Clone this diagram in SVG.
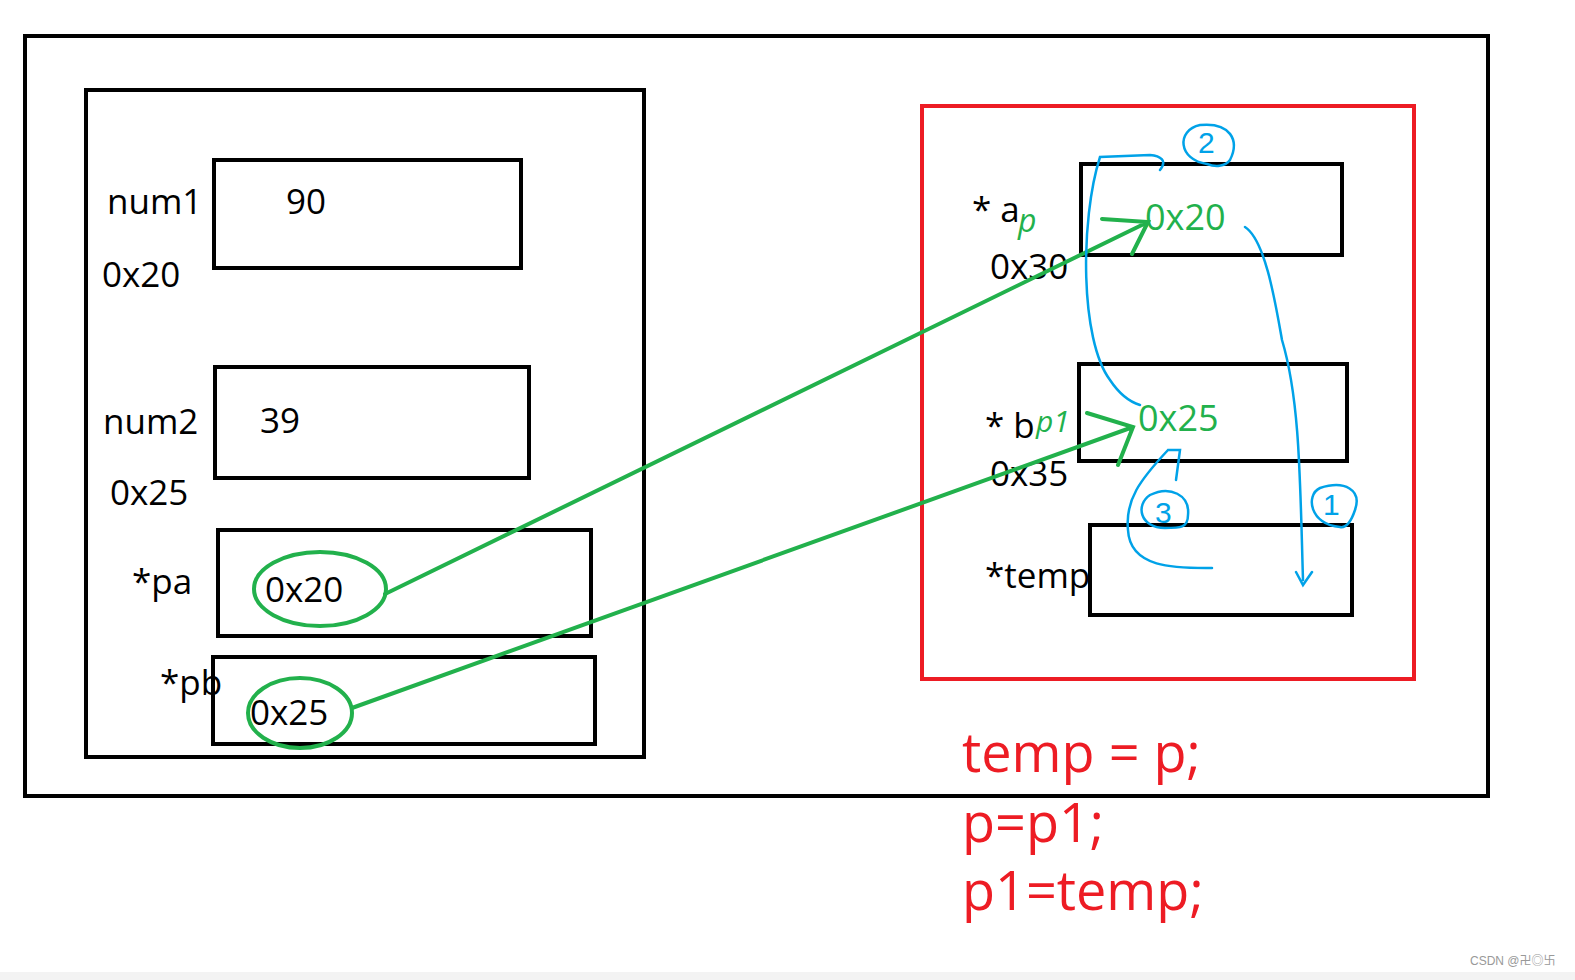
<svg xmlns="http://www.w3.org/2000/svg" width="1575" height="980" viewBox="0 0 1575 980">
<style>
.b{fill:none;stroke:#000;stroke-width:4}
.t{font-family:"Open Sans","Noto Sans",sans-serif;font-size:35px;fill:#000}
.g{font-family:"Open Sans","Noto Sans",sans-serif;font-size:36px;fill:#22b14c}
.r{font-family:"Open Sans","Noto Sans",sans-serif;font-size:54px;fill:#ed1c24}
.gl{fill:none;stroke:#22b14c;stroke-width:4;stroke-linecap:round}
.bl{fill:none;stroke:#00a2e8;stroke-width:2.5;stroke-linecap:round}
.hw{font-family:"Liberation Sans",sans-serif;fill:#00a2e8;font-size:30px}
</style>
<rect width="1575" height="980" fill="#fff"/>
<rect x="0" y="972" width="1575" height="8" fill="#f3f3f3"/>
<rect x="25" y="36" width="1463" height="760" class="b"/>
<g id="main"><rect x="86" y="90" width="558" height="667" class="b"/>
<text x="107" y="214" class="t">num1</text><text x="102" y="287" class="t">0x20</text>
<text x="103" y="434" class="t">num2</text><text x="110" y="505" class="t">0x25</text>
<text x="132" y="594" class="t">*pa</text><text x="160" y="695" class="t">*pb</text></g>
<g id="num1"><rect x="214" y="160" width="307" height="108" class="b"/><text x="286" y="214" class="t">90</text></g>
<g id="num2"><rect x="215" y="367" width="314" height="111" class="b"/><text x="260" y="433" class="t">39</text></g>
<g id="pa"><rect x="218" y="530" width="373" height="106" class="b"/><text x="265" y="602" class="t">0x20</text>
<ellipse cx="320" cy="589" rx="66" ry="37" class="gl"/></g>
<g id="pb"><rect x="213" y="657" width="382" height="87" class="b"/><text x="250" y="725" class="t">0x25</text>
<ellipse cx="300" cy="713" rx="52" ry="35" class="gl"/></g>
<g id="swap"><rect x="922" y="106" width="492" height="573" fill="none" stroke="#ed1c24" stroke-width="4"/>
<text x="972" y="222" class="t">* a</text><text x="990" y="279" class="t">0x30</text>
<text x="985" y="438" class="t">* b</text><text x="990" y="486" class="t">0x35</text>
<text x="985" y="588" class="t">*temp</text></g>
<g id="a"><rect x="1081" y="164" width="261" height="91" class="b"/><text x="1145" y="230" class="g">0x20</text></g>
<g id="b"><rect x="1079" y="364" width="268" height="97" class="b"/><text x="1138" y="431" class="g">0x25</text></g>
<g id="temp"><rect x="1090" y="525" width="262" height="90" class="b"/></g>
<g id="connectors">
<path d="M385 594 L1148 222 M1102 219 L1148 222 L1132 254" class="gl"/>
<path d="M352 708 L1133 427 M1087 413 L1133 427 L1118 465" class="gl"/>
<path d="M1245 227 C1265 240 1275 300 1282 340 C1300 400 1300 480 1303 580 M1296 572 L1303 585 L1312 572" class="bl"/>
<path d="M1160 170 C1168 160 1160 156 1150 155 L1100 157 C1080 220 1080 340 1110 380 C1120 395 1130 402 1140 405" class="bl"/>
<path d="M1212 568 C1180 568 1130 570 1128 530 C1125 500 1140 480 1168 450 L1180 450 L1176 480" class="bl"/>
</g>
<g id="notes">
<path d="M1207 164 C1178 160 1176 130 1200 125 C1230 122 1240 140 1230 160 C1225 167 1215 167 1207 164" class="bl"/>
<text x="1198" y="153" class="hw">2</text>
<path d="M1165 528 C1140 528 1135 505 1150 495 C1170 485 1190 495 1188 515 C1188 528 1180 528 1165 528" class="bl"/>
<text x="1155" y="523" class="hw">3</text>
<path d="M1340 527 C1310 525 1305 495 1320 488 C1345 480 1362 490 1355 510 C1350 525 1345 528 1340 527" class="bl"/>
<text x="1323" y="515" class="hw">1</text>
<text x="1018" y="232" class="g" style="font-size:32px;font-style:italic">p</text>
<text x="1036" y="432" class="g" style="font-size:30px;font-style:italic">p1</text>
<text x="962" y="772" class="r">temp = p;</text>
<text x="962" y="842" class="r">p=p1;</text>
<text x="962" y="910" class="r">p1=temp;</text>
<text x="1470" y="965" font-family="'Liberation Sans','Noto Sans CJK SC',sans-serif" font-size="12" fill="#999">CSDN @卍◎卐</text>
</g>
</svg>
